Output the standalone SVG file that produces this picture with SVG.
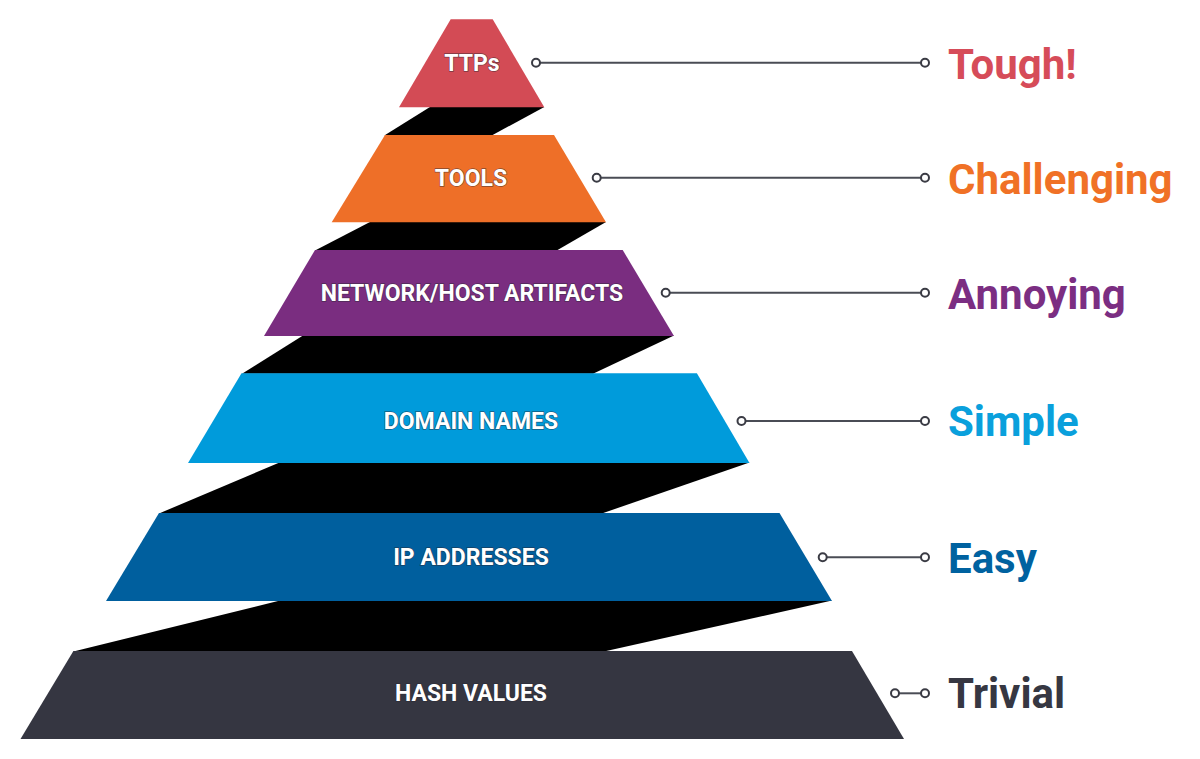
<svg xmlns="http://www.w3.org/2000/svg" width="1200" height="759" viewBox="0 0 1200 759">
<style>
.shadow{fill:#000}
.lbl{font-family:Roboto,"Liberation Sans",sans-serif;font-weight:700;font-size:23px;fill:#fff;text-anchor:middle;stroke:rgba(40,40,50,0.55);stroke-width:1.4px;paint-order:stroke}
.lvl{font-family:Roboto,"Liberation Sans",sans-serif;font-weight:700;font-size:42px}
.line{stroke:#4a4c55;stroke-width:2;fill:none}
.dot{fill:#fff;stroke:#3a3b44;stroke-width:2}
</style>
<rect width="1200" height="759" fill="#fff"/>
<g id="shadows">
<polygon class="shadow" points="430,107 544.3,107 491.7,135.5 384.3,135.5"/>
<polygon class="shadow" points="370,222 606,222 556.7,250.5 315,250.5"/>
<polygon class="shadow" points="303,335.5 674,335.5 593,373.8 242,373.8"/>
<polygon class="shadow" points="279.5,462.5 749.5,462.5 601.8,513.5 159,513.5"/>
<polygon class="shadow" points="280,600.5 832,600.5 604,651.5 73.4,651.5"/>
</g>
<g id="ttps">
<polygon points="450.7,19.3 492.7,19.3 544.3,107.3 399,107.3" fill="#d34b55"/>
<text class="lbl" x="472" y="71">TTPs</text>
</g>
<g id="tools">
<polygon points="385,135 554,135 606,222.3 331.7,222.3" fill="#ee6f28"/>
<text class="lbl" x="471" y="186">TOOLS</text>
</g>
<g id="network">
<polygon points="315,250 622.7,250 674,336 264,336" fill="#7a2d80"/>
<text class="lbl" x="472" y="301">NETWORK/HOST ARTIFACTS</text>
</g>
<g id="domain">
<polygon points="241.5,373.3 696.9,373.3 749.5,463 188,463" fill="#009bdb"/>
<text class="lbl" x="471" y="429">DOMAIN NAMES</text>
</g>
<g id="ip">
<polygon points="159,513 779.5,513 832,601 106,601" fill="#005f9e"/>
<text class="lbl" x="471" y="565">IP ADDRESSES</text>
</g>
<g id="hash">
<polygon points="73.4,651 852,651 904,739 20.5,739" fill="#353641"/>
<text class="lbl" x="471" y="701">HASH VALUES</text>
</g>
<g id="connectors">
<line class="line" x1="536" y1="62.7" x2="925" y2="62.7"/>
<circle class="dot" cx="536" cy="62.7" r="4"/>
<circle class="dot" cx="925" cy="62.7" r="4"/>
<line class="line" x1="596.7" y1="177.7" x2="925" y2="177.7"/>
<circle class="dot" cx="596.7" cy="177.7" r="4"/>
<circle class="dot" cx="925" cy="177.7" r="4"/>
<line class="line" x1="665.7" y1="292.7" x2="925" y2="292.7"/>
<circle class="dot" cx="665.7" cy="292.7" r="4"/>
<circle class="dot" cx="925" cy="292.7" r="4"/>
<line class="line" x1="741.5" y1="421" x2="925" y2="421"/>
<circle class="dot" cx="741.5" cy="421" r="4"/>
<circle class="dot" cx="925" cy="421" r="4"/>
<line class="line" x1="822.7" y1="557.3" x2="925" y2="557.3"/>
<circle class="dot" cx="822.7" cy="557.3" r="4"/>
<circle class="dot" cx="925" cy="557.3" r="4"/>
<line class="line" x1="895" y1="693.3" x2="925" y2="693.3"/>
<circle class="dot" cx="895" cy="693.3" r="4"/>
<circle class="dot" cx="925" cy="693.3" r="4"/>
</g>
<g id="levels">
<text class="lvl" x="948" y="79.3" fill="#d64c59">Tough!</text>
<text class="lvl" x="948" y="194" fill="#f07126">Challenging</text>
<text class="lvl" x="948" y="309.3" fill="#7b2e82">Annoying</text>
<text class="lvl" x="948" y="436" fill="#0aa0dc">Simple</text>
<text class="lvl" x="948" y="572.7" fill="#0062a0">Easy</text>
<text class="lvl" x="948" y="708.3" fill="#363742">Trivial</text>
</g>
</svg>
